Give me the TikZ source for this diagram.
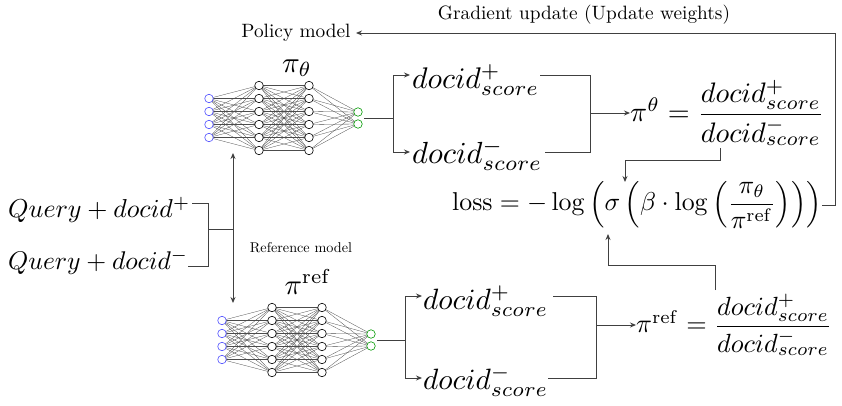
\documentclass[tikz,border=0pt]{standalone}
\usepackage{amsmath,graphicx}
\usetikzlibrary{arrows.meta}
\begin{document}
\begin{tikzpicture}[x=1pt,y=-1pt,
  ln/.style={draw=black!75,line width=0.9pt},
  ar/.style={ln,-{Stealth[length=6pt,width=5pt]}},
  big/.style={inner sep=0pt},
  sm/.style={inner sep=0pt},
  neu/.style={circle,draw,fill=white,minimum size=8.5pt,inner sep=0pt,line width=0.6pt},
  edge/.style={draw=black!70,line width=0.3pt}]
\useasboundingbox (0,0) rectangle (842,405);
\newcommand{\mynet}[3]{% #1 prefix, #2 x0, #3 yc
  \foreach \i in {1,...,4} \coordinate (#1a\i) at (#2, #3-19.5+13*\i-13);
  \foreach \i in {1,...,6} \coordinate (#1b\i) at (#2+50, #3-32.5+13*\i-13);
  \foreach \i in {1,...,6} \coordinate (#1c\i) at (#2+100, #3-32.5+13*\i-13);
  \foreach \i in {1,2} \coordinate (#1d\i) at (#2+149, #3-6+12*\i-12);
  \foreach \i in {1,...,4} \foreach \j in {1,...,6} \draw[edge] (#1a\i)--(#1b\j);
  \foreach \i in {1,...,6} \foreach \j in {1,...,6} \draw[edge] (#1b\i)--(#1c\j);
  \foreach \i in {1,...,6} \foreach \j in {1,2} \draw[edge] (#1c\i)--(#1d\j);
  \foreach \i in {1,...,4} \node[neu,draw=blue!70] at (#1a\i) {};
  \foreach \i in {1,...,6} \node[neu] at (#1b\i) {};
  \foreach \i in {1,...,6} \node[neu] at (#1c\i) {};
  \foreach \i in {1,2} \node[neu,draw=green!60!black] at (#1d\i) {};
}
\newcommand{\rb}[2]{\resizebox{#1pt}{!}{#2}}
\mynet{p}{209}{118}
\mynet{r}{222}{340}
\node[big] (pt) at (297,68) {\rb{30}{$\pi_\theta$}};
\node[big] (pr) at (308,282) {\rb{47}{$\pi^{\mathrm{ref}}$}};
\node[sm] (pm) at (296,33) {\rb{109}{Policy model}};
\node[sm] (rm) at (301,248) {\rb{102}{Reference model}};
\node[sm] (gu) at (584,15) {\rb{292}{Gradient update (Update weights)}};
% queries
\node[big,anchor=west] (q1) at (8,210) {\rb{182}{$Query + docid^{+}$}};
\node[big,anchor=west] (q2) at (8,262) {\rb{180}{$Query + docid^{-}$}};
\coordinate (j1) at (208,229);
\coordinate (va) at (233,153);
\coordinate (vb) at (233,303);
\coordinate (vm) at (233,229);
\coordinate (q1e) at (192,203);
\coordinate (q2e) at (188,266);
\draw[ln] (q1e) -| (j1);
\draw[ln] (q2e) -| (j1);
\draw[ln] (j1) -- (vm);
\draw[ln,{Stealth[length=6pt,width=5pt]}-{Stealth[length=6pt,width=5pt]}] (va) -- (vb);
% top branch
\node[big,anchor=west] (dp1) at (412,80) {\rb{127}{$docid^{+}_{score}$}};
\node[big,anchor=west] (dm1) at (412,155) {\rb{130}{$docid^{-}_{score}$}};
\coordinate (s1) at (393,118);
\coordinate (o1) at (364,118);
\draw[ln] (o1) -- (s1);
\coordinate (t1) at (410,75);
\coordinate (b1) at (410,152);
\draw[ar] (s1) |- (t1);
\draw[ar] (s1) |- (b1);
\coordinate (m1) at (590,113);
\draw[ln] (540,75) -| (590,152) -- (545,152);
\node[big,anchor=west] (f1) at (630,113) {\rb{194}{$\pi^{\theta} = \dfrac{docid^{+}_{score}}{docid^{-}_{score}}$}};
\draw[ar] (m1) -- (f1.west);
% loss
\node[big,anchor=west] (loss) at (452,205) {\rb{370}{$\mathrm{loss} = -\log\left(\sigma\left(\beta\cdot\log\left(\dfrac{\pi_\theta}{\pi^{\mathrm{ref}}}\right)\right)\right)$}};
\draw[ar] (720,148) -- (720,160) -| (625,182);
\draw[ar] (715,290) -- (715,265) -| (608,234);
\coordinate (ge) at (356,33);
\draw[ar] (loss.east) -| (835,33) -- (ge);
% bottom branch
\node[big,anchor=west] (dp2) at (423,301) {\rb{125}{$docid^{+}_{score}$}};
\node[big,anchor=west] (dm2) at (423,381) {\rb{125}{$docid^{-}_{score}$}};
\coordinate (s2) at (405,340);
\coordinate (o2) at (377,340);
\draw[ln] (o2) -- (s2);
\coordinate (t2) at (422,296);
\coordinate (b2) at (422,378);
\draw[ar] (s2) |- (t2);
\draw[ar] (s2) |- (b2);
\coordinate (m2) at (596,325);
\draw[ln] (553,296) -| (596,378) -- (548,378);
\node[big,anchor=west] (f2) at (636,325) {\rb{196}{$\pi^{\mathrm{ref}} = \dfrac{docid^{+}_{score}}{docid^{-}_{score}}$}};
\draw[ar] (m2) -- (f2.west);
\end{tikzpicture}
\end{document}
